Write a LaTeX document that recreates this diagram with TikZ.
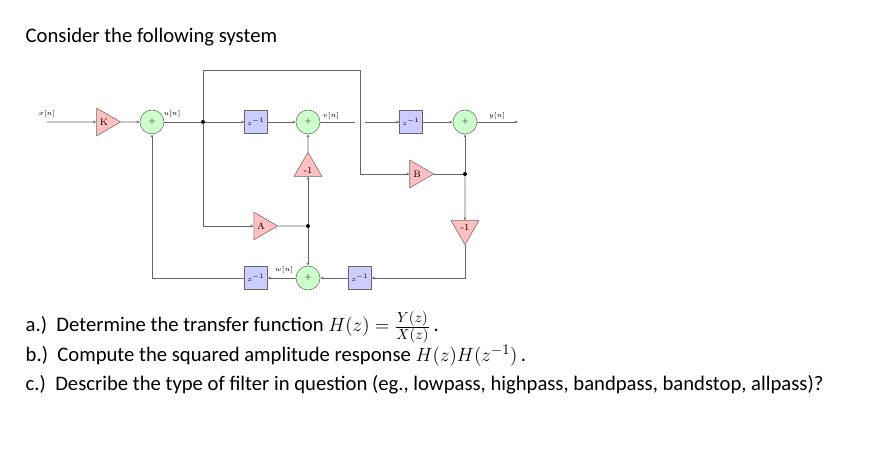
\documentclass[tikz,border=0pt]{standalone}
\usepackage{fontspec}
\usepackage{amsmath}
\setmainfont{Carlito}
\newfontfamily\lmr{Latin Modern Roman}
\usetikzlibrary{shapes.geometric,arrows.meta}
\begin{document}
\begin{tikzpicture}[x=0.75pt,y=-0.75pt,
  ln/.style={draw=gray!80!black,line width=0.5pt},
  ar/.style={ln,-{Stealth[length=2.5pt,width=2pt]}},
  sum/.style={circle,draw=gray!80!black,fill=green!20,minimum size=18pt,inner sep=0pt,font=\lmr\fontsize{6}{7}\selectfont},
  dl/.style={rectangle,draw=gray!80!black,fill=blue!20,minimum size=17pt,inner sep=0pt,font=\fontsize{5}{6}\selectfont},
  gain/.style={isosceles triangle,isosceles triangle apex angle=60,draw=gray!80!black,fill=red!25,minimum height=18pt,inner sep=0.5pt,font=\lmr\fontsize{7}{8}\selectfont},
  dot/.style={circle,fill=black,inner sep=0pt,minimum size=3pt},
  lbl/.style={font=\fontsize{5.5}{6}\selectfont},
  txt/.style={anchor=west,font=\fontsize{15.5}{18}\selectfont}]
\useasboundingbox (0,0) rectangle (886,452);
\node[txt] (title) at (21,37) {Consider the following system};
\coordinate (xin) at (47,122);
\node[gain,shape border rotate=0] (K) at (104,122) {K};
\node[sum] (s1) at (152,122) {+};
\node[dot] (d1) at (203,122) {};
\node[dl] (z1) at (256,122) {$z^{-1}$};
\node[sum] (s2) at (308,122) {+};
\node[gain,shape border rotate=90] (m1) at (308,170) {-1};
\node[gain,shape border rotate=0] (A) at (261,226) {A};
\node[dot] (d2) at (308,226) {};
\node[sum] (s3) at (308,278) {+};
\node[dl] (z3) at (256,278) {$z^{-1}$};
\node[dl] (z4) at (360,278) {$z^{-1}$};
\node[dl] (z2) at (411,122) {$z^{-1}$};
\node[gain,shape border rotate=0] (B) at (417,174) {B};
\node[sum] (s4) at (465,122) {+};
\node[dot] (d3) at (465,174) {};
\node[gain,shape border rotate=270] (m2) at (465,227) {-1};
\coordinate (yout) at (518,122);
\coordinate (gap1) at (355,122);
\coordinate (gap2) at (365,122);
\node[lbl] (lx) at (47,114) {$x[n]$};
\node[lbl] (lu) at (172,114) {$u[n]$};
\node[lbl] (lv) at (331,116) {$v[n]$};
\node[lbl] (lw) at (284,270) {$w[n]$};
\node[lbl] (ly) at (497,116) {$y[n]$};
\draw[ar] (xin) -- (K);
\draw[ar] (K) -- (s1);
\draw[ln] (s1) -- (d1);
\draw[ar] (d1) -- (z1);
\draw[ar] (z1) -- (s2);
\draw[ln] (s2) -- (gap1);
\draw[ar] (gap2) -- (z2);
\draw[ar] (z2) -- (s4);
\draw[ar] (s4) -- (yout);
\draw[ar] (d1) |- (A);
\draw[ln] (A) -- (d2);
\draw[ar] (d2) -- (m1);
\draw[ar] (m1) -- (s2);
\draw[ar] (d2) -- (s3);
\draw[ar] (s3) -- (z3);
\draw[ar] (z3) -| (s1);
\draw[ar] (d1) -- (203,70) -- (360,70) |- (B);
\draw[ln] (B) -- (d3);
\draw[ar] (d3) -- (s4);
\draw[ar] (d3) -- (m2);
\draw[ar] (m2) |- (z4);
\draw[ar] (z4) -- (s3);
\node[txt] (qa) at (21,327) {a.)\ \ Determine the transfer function $H(z)=\frac{Y(z)}{X(z)}$\,.};
\node[txt] (qb) at (21,356) {b.)\ \ Compute the squared amplitude response $H(z)H(z^{-1})$\,.};
\node[txt] (qc) at (21,385) {c.)\ \ Describe the type of filter in question (eg., lowpass, highpass, bandpass, bandstop, allpass)?};
\end{tikzpicture}
\end{document}
